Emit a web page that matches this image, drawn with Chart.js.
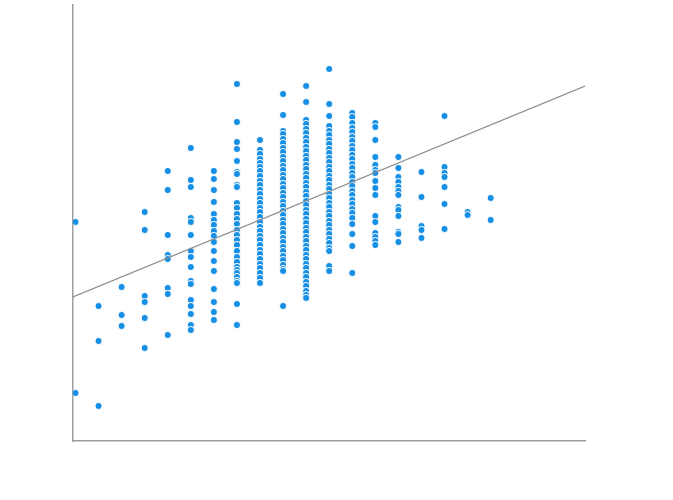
<!DOCTYPE html>
<html>
<head>
<meta charset="utf-8">
<script src="https://cdn.jsdelivr.net/npm/chart.js@4/dist/chart.umd.min.js"></script>
<style>
  html, body { margin: 0; padding: 0; background: #fff; }
  #wrap { width: 673px; height: 500px; }
</style>
</head>
<body>
<div id="wrap"><canvas id="c" width="673" height="500"></canvas></div>
<script>
// x positions of the columns
const xValues = [0, 1, 2, 3, 4, 5, 6, 7, 8, 9, 10, 11, 12, 13, 14, 15, 16, 17, 18];

// y values per column
const col0 = [218, 47];
const col1 = [134, 99, 34];
const col2 = [153, 125, 114];
const col3 = [228, 210, 144, 138, 122, 92];
const col4 = [269, 250, 205, 185, 181, 152, 146, 105];
const col5 = [292, 260, 253, 222, 218, 205, 189, 183, 173, 159, 156, 140, 134, 126, 115, 110];
const col6 = [269, 261, 250, 238, 226, 220, 215, 209, 204, 198, 189, 179, 169, 151, 138, 128, 120];
const col7 = [356, 318, 298, 291, 279, 268, 266, 255, 253, 237, 232, 226, 221, 216, 210, 205, 200, 195, 189, 183, 178, 173, 170, 167, 163, 159, 157, 136, 115];
const col8 = [300, 290, 286, 281, 277, 273, 269, 264, 259, 255, 250, 246, 241, 237, 232, 228, 223, 218, 213, 209, 204, 200, 195, 190, 186, 181, 176, 172, 167, 162, 157];
const col9 = [346, 325, 309, 306, 301, 297, 292, 288, 283, 279, 274, 270, 265, 261, 256, 252, 247, 243, 238, 234, 229, 225, 220, 216, 211, 207, 202, 198, 193, 189, 184, 180, 175, 171, 169, 134];
const col10 = [354, 338, 320, 316, 311, 307, 302, 298, 293, 289, 284, 280, 275, 271, 266, 262, 257, 253, 248, 244, 239, 235, 230, 226, 221, 217, 212, 208, 203, 199, 194, 190, 185, 181, 176, 172, 167, 163, 158, 154, 149, 145, 142];
const col11 = [371, 336, 324, 314, 309, 305, 300, 296, 291, 287, 282, 278, 273, 269, 264, 260, 255, 251, 246, 242, 237, 233, 228, 224, 219, 215, 210, 206, 201, 197, 192, 189, 174, 169];
const col12 = [327, 323, 317, 312, 308, 303, 299, 294, 290, 285, 281, 276, 272, 267, 263, 258, 254, 249, 245, 240, 236, 231, 227, 222, 216, 206, 194, 167];
const col13 = [317, 313, 300, 283, 275, 270, 267, 259, 252, 245, 224, 218, 207, 203, 199, 195];
const col14 = [283, 272, 263, 258, 253, 249, 245, 233, 230, 224, 208, 206, 198];
const col15 = [268, 243, 214, 210, 202];
const col16 = [324, 273, 267, 263, 253, 236, 211];
const col17 = [228, 225];
const col18 = [242, 220];

// fitted line endpoints
const fitX = [-0.108, 22.09];
const fitY = [143, 354];

const columns = [col0, col1, col2, col3, col4, col5, col6, col7, col8, col9, col10, col11, col12, col13, col14, col15, col16, col17, col18];
const points = [];
columns.forEach((col, i) => col.forEach(v => points.push({ x: xValues[i], y: v })));
const fitPoints = fitX.map((x, i) => ({ x: x, y: fitY[i] }));

new Chart(document.getElementById('c'), {
  type: 'scatter',
  data: {
    datasets: [
      {
        type: 'line',
        data: fitPoints,
        borderColor: '#8e8e8e',
        borderWidth: 1.2,
        pointRadius: 0,
        fill: false,
        order: 0
      },
      {
        data: points,
        backgroundColor: 'rgb(22,143,229)',
        borderColor: '#ffffff',
        borderWidth: 1,
        pointRadius: 3.6,
        pointHoverRadius: 3.6,
        order: 1
      }
    ]
  },
  options: {
    responsive: false,
    animation: false,
    devicePixelRatio: 1,
    layout: { padding: { left: 73, top: 5, right: 88, bottom: 59 } },
    plugins: { legend: { display: false }, tooltip: { enabled: false } },
    scales: {
      x: {
        type: 'linear',
        min: fitX[0],
        max: fitX[1],
        ticks: { display: false },
        grid: { display: false, drawTicks: false },
        border: { display: true, color: '#9e9e9e', width: 1.5 }
      },
      y: {
        type: 'linear',
        min: -1,
        max: 435,
        ticks: { display: false },
        grid: { display: false, drawTicks: false },
        border: { display: true, color: '#9e9e9e', width: 1.5 }
      }
    }
  }
});
</script>
</body>
</html>
